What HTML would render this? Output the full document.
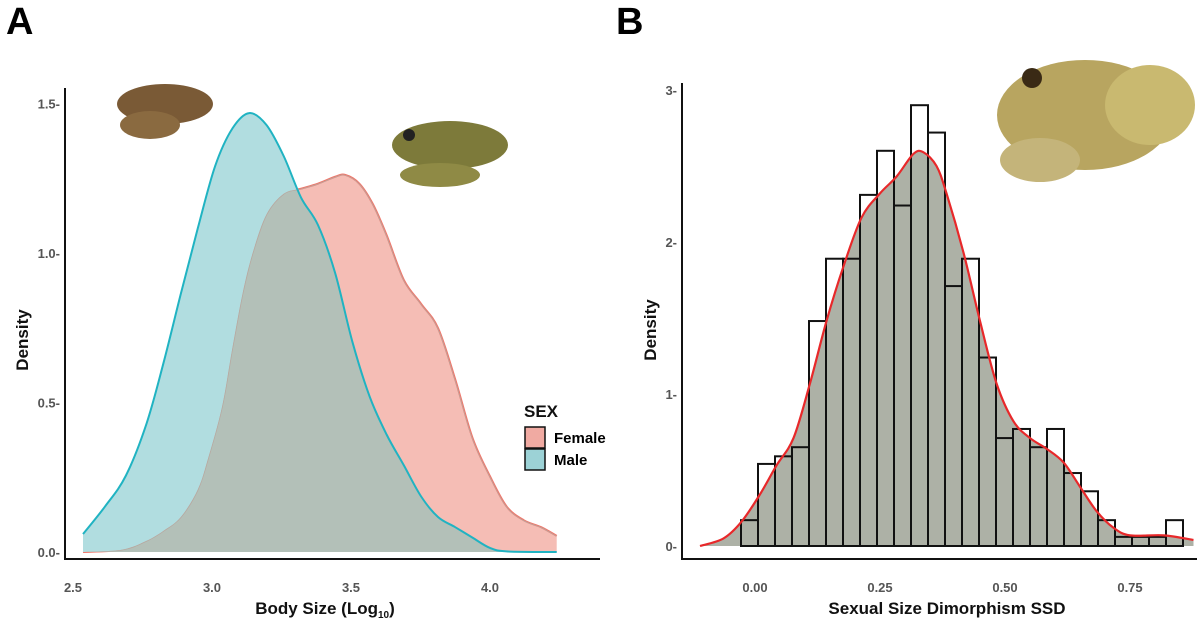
<!DOCTYPE html>
<html><head><meta charset="utf-8"><style>
body{margin:0;background:#fff;}
svg{display:block;font-family:"Liberation Sans",Arial,sans-serif;}
.tk{font-size:13px;font-weight:bold;fill:#555;}
.tt{font-size:17px;font-weight:bold;fill:#111;}
</style></head><body>
<svg id="s" width="1200" height="622" viewBox="0 0 1200 622">
<text x="6" y="34" font-size="38" font-weight="bold">A</text>
<text x="616" y="34" font-size="38" font-weight="bold">B</text>
<g id="ga"></g>
<g id="gb"></g>
<g>
<ellipse cx="165" cy="104" rx="48" ry="20" fill="#7a5a36"/><ellipse cx="150" cy="125" rx="30" ry="14" fill="#8a6a40"/></g>
<g>
<ellipse cx="450" cy="145" rx="58" ry="24" fill="#7d7a3a"/><ellipse cx="440" cy="175" rx="40" ry="12" fill="#8f8a45"/><circle cx="409" cy="135" r="6" fill="#222"/></g>
<g>
<ellipse cx="1085" cy="115" rx="88" ry="55" fill="#b8a560"/><ellipse cx="1150" cy="105" rx="45" ry="40" fill="#c9b970"/><ellipse cx="1040" cy="160" rx="40" ry="22" fill="#c4b47a"/><circle cx="1032" cy="78" r="10" fill="#3a2a15"/></g>
</svg>
<script>
// Panel A data
const maleX=[2.536,2.615,2.69,2.764,2.826,2.888,2.949,3.011,3.073,3.134,3.196,3.258,3.32,3.381,3.443,3.505,3.567,3.628,3.69,3.752,3.813,3.875,3.937,3.999,4.06,4.24];
const maleY=[0.06,0.152,0.255,0.428,0.634,0.864,1.083,1.29,1.416,1.468,1.428,1.324,1.186,1.094,0.933,0.703,0.52,0.393,0.29,0.186,0.117,0.083,0.048,0.014,0.002,0];
const femaleX=[2.536,2.678,2.764,2.826,2.888,2.949,2.986,3.036,3.073,3.11,3.147,3.196,3.258,3.32,3.381,3.443,3.48,3.53,3.579,3.628,3.69,3.752,3.813,3.875,3.937,3.999,4.06,4.122,4.184,4.24];
const femaleY=[0,0.008,0.037,0.071,0.117,0.209,0.313,0.485,0.68,0.864,1.002,1.129,1.198,1.215,1.232,1.255,1.261,1.232,1.163,1.06,0.91,0.83,0.749,0.577,0.382,0.255,0.152,0.106,0.083,0.054];
const aXTicks=[2.5,3.0,3.5,4.0];
const aXTickLabels=["2.5","3.0","3.5","4.0"];
const aYTicks=[0,0.5,1.0,1.5];
const aYTickLabels=["0.0","0.5","1.0","1.5"];
// Panel B data
const binStart=-0.018, binWidth=0.034;
const binCounts=[0.17,0.54,0.59,0.65,1.48,1.89,1.89,2.31,2.60,2.24,2.90,2.72,1.71,1.89,1.24,0.71,0.77,0.65,0.77,0.48,0.36,0.17,0.06,0.06,0.06,0.17];
const densX=[-0.1,-0.053,-0.017,0.02,0.053,0.087,0.12,0.153,0.187,0.223,0.26,0.293,0.327,0.347,0.373,0.393,0.427,0.46,0.493,0.527,0.56,0.593,0.627,0.66,0.693,0.727,0.76,0.827,0.887];
const densY=[0,0.05,0.16,0.34,0.53,0.71,1.07,1.48,1.84,2.16,2.32,2.43,2.58,2.59,2.5,2.32,1.93,1.48,1.07,0.82,0.71,0.64,0.55,0.39,0.23,0.12,0.07,0.07,0.04];
const bXTicks=[0,0.25,0.5,0.75];
const bXTickLabels=["0.00","0.25","0.50","0.75"];
const bYTicks=[0,1,2,3];
const bYTickLabels=["0","1","2","3"];

const NS="http://www.w3.org/2000/svg";
function mk(p,t,a){const e=document.createElementNS(NS,t);for(const k in a)e.setAttribute(k,a[k]);p.appendChild(e);return e;}
function smooth(pts){let d="M"+pts[0][0]+","+pts[0][1];
 for(let i=0;i<pts.length-1;i++){const p0=pts[i-1]||pts[i],p1=pts[i],p2=pts[i+1],p3=pts[i+2]||p2;
 d+=" C"+(p1[0]+(p2[0]-p0[0])/6)+","+(p1[1]+(p2[1]-p0[1])/6)+" "+(p2[0]-(p3[0]-p1[0])/6)+","+(p2[1]-(p3[1]-p1[1])/6)+" "+p2[0]+","+p2[1];}
 return d;}

// Panel A
const ga=document.getElementById('ga');
const ax=v=>73+(v-2.5)*278, ay=v=>552-v*299;
const fPts=femaleX.map((x,i)=>[ax(x),ay(femaleY[i])]);
const mPts=maleX.map((x,i)=>[ax(x),ay(maleY[i])]);
const fLine=smooth(fPts), mLine=smooth(mPts);
const fArea=fLine+" L"+ax(femaleX[femaleX.length-1])+","+ay(0)+" L"+ax(femaleX[0])+","+ay(0)+"Z";
const mArea=mLine+" L"+ax(maleX[maleX.length-1])+","+ay(0)+" L"+ax(maleX[0])+","+ay(0)+"Z";
const defs=mk(ga,'defs',{});const cp=mk(defs,'clipPath',{id:'fclip'});mk(cp,'path',{d:fArea});
let e;
e=mk(ga,'path',{d:fArea,fill:'#f5bdb5'});


e=mk(ga,'path',{d:fLine,fill:'none',stroke:'#f0766a','stroke-width':2});


e=mk(ga,'path',{d:mArea,fill:'#b1dde0'});


e=mk(ga,'path',{d:mArea,fill:'#b3c0b8','clip-path':'url(#fclip)'});


e=mk(ga,'path',{d:fLine,fill:'none',stroke:'#b8a8a0','stroke-width':1.5,'clip-path':'url(#fclip)'});


e=mk(ga,'path',{d:mLine,fill:'none',stroke:'#20b3c2','stroke-width':2});


e=mk(ga,'path',{d:"M65,88 L65,559 L600,559",fill:'none',stroke:'#111','stroke-width':2});


aXTicks.forEach((v,i)=>{
 e=mk(ga,'text',{x:ax(v),y:592,'text-anchor':'middle',class:'tk'});e.textContent=aXTickLabels[i];
 
 });
aYTicks.forEach((v,i)=>{
 e=mk(ga,'text',{x:60,y:ay(v)+5,'text-anchor':'end',class:'tk'});e.textContent=aYTickLabels[i]+"-";
 
 });
e=mk(ga,'text',{x:325,y:614,'text-anchor':'middle',class:'tt'});e.innerHTML='Body Size (Log<tspan font-size="10" dy="4">10</tspan><tspan dy="-4">)</tspan>';


e=mk(ga,'text',{x:0,y:0,'text-anchor':'middle',class:'tt',transform:'translate(28,340) rotate(-90)'});e.textContent='Density';


e=mk(ga,'text',{x:524,y:417,class:'tt','font-size':'16'});e.textContent='SEX';


[['Female','#f0aaa2',427],['Male','#9cd2d6',449]].forEach(l=>{
 e=mk(ga,'rect',{x:525,y:l[2],width:20,height:21,fill:l[1],stroke:'#111','stroke-width':1.5});
 
 
 e=mk(ga,'text',{x:554,y:l[2]+16,'font-size':'15','font-weight':'bold'});e.textContent=l[0];
 
 });

// Panel B
const gb=document.getElementById('gb');
const bx=v=>750+v*500, by=v=>546-v*152;
binCounts.forEach((c,i)=>{
 e=mk(gb,'rect',{x:bx(binStart+i*binWidth),y:by(c),width:binWidth*500,height:by(0)-by(c),fill:'#fff'});
 
 });
const dPts=densX.map((x,i)=>[bx(x),by(densY[i])]);
const dLine=smooth(dPts);
e=mk(gb,'path',{d:dLine+" L"+bx(densX[densX.length-1])+","+by(0)+" L"+bx(densX[0])+","+by(0)+"Z",fill:'#adb1a6'});


binCounts.forEach((c,i)=>{
 e=mk(gb,'rect',{x:bx(binStart+i*binWidth),y:by(c),width:binWidth*500,height:by(0)-by(c),fill:'none',stroke:'#111','stroke-width':2});
 
 });
e=mk(gb,'path',{d:dLine,fill:'none',stroke:'#e8282a','stroke-width':2.2});


e=mk(gb,'path',{d:"M682,83 L682,559 L1197,559",fill:'none',stroke:'#111','stroke-width':2});


bXTicks.forEach((v,i)=>{
 e=mk(gb,'text',{x:bx(v)+5,y:592,'text-anchor':'middle',class:'tk'});e.textContent=bXTickLabels[i];
 
 });
bYTicks.forEach((v,i)=>{
 e=mk(gb,'text',{x:677,y:by(v)+5,'text-anchor':'end',class:'tk'});e.textContent=bYTickLabels[i]+"-";
 
 });
e=mk(gb,'text',{x:947,y:614,'text-anchor':'middle',class:'tt'});e.textContent='Sexual Size Dimorphism SSD';


e=mk(gb,'text',{x:0,y:0,'text-anchor':'middle',class:'tt',transform:'translate(656,330) rotate(-90)'});e.textContent='Density';


</script>
</body></html>
